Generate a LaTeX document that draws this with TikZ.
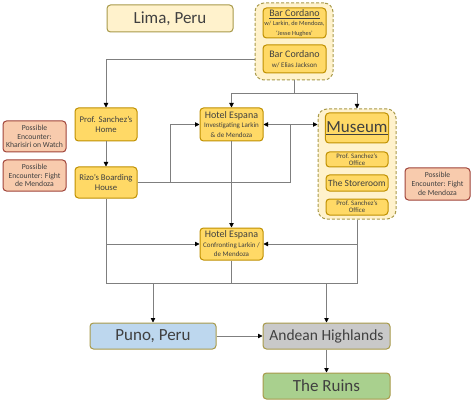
\documentclass[tikz,border=0pt]{standalone}
\usepackage{fontspec}
\setmainfont{Carlito}
\usetikzlibrary{arrows.meta,positioning}
\definecolor{txt}{HTML}{404040}
\definecolor{ybox}{HTML}{FFD966}
\definecolor{ybd}{HTML}{BF9000}
\definecolor{ylight}{HTML}{FFF2CC}
\definecolor{bigbd}{HTML}{A89A4A}
\definecolor{pinkf}{HTML}{F8CBAD}
\definecolor{pinkbd}{HTML}{A0443A}
\definecolor{bluef}{HTML}{BDD7EE}
\definecolor{grayf}{HTML}{C9C9C9}
\definecolor{greenf}{HTML}{A9D08E}
\definecolor{lnc}{HTML}{7F7F7F}
\tikzset{
  base/.style={rounded corners=3.5pt, line width=1pt, align=center, text=txt, inner sep=1pt},
  ybx/.style={base, draw=ybd, fill=ybox},
  bigbx/.style={base, draw=bigbd, font=\fontsize{17}{19}\selectfont},
  encbx/.style={base, draw=pinkbd, fill=pinkf, font=\fontsize{7.7}{8.7}\selectfont},
  grp/.style={draw=bigbd, fill=ylight, dashed, line width=1pt, rounded corners=9pt, dash pattern=on 3pt off 2pt},
  conn/.style={draw=lnc, line width=0.8pt},
  arr/.style={conn, -{Triangle[width=4.5pt,length=4.5pt,color=black]}},
  biarr/.style={conn, {Triangle[width=4.5pt,length=4.5pt,color=black]}-{Triangle[width=4.5pt,length=4.5pt,color=black]}},
}
\newcommand{\sub}[1]{{\fontsize{7}{7.5}\selectfont #1}}
\newcommand{\subs}[1]{{\fontsize{6.3}{7}\selectfont #1}}
\newcommand{\ttl}[1]{{\fontsize{10}{10.5}\selectfont #1}}
\begin{document}
\begin{tikzpicture}[x=1pt,y=-1pt]
\useasboundingbox[fill=white] (0,0) rectangle (474,409);
% groups
\node[grp, minimum width=78pt, minimum height=77pt] (g1) at (294,41.5) {};
\node[grp, minimum width=78pt, minimum height=110pt] (g2) at (357,164) {};
% top
\node[bigbx, fill=ylight, minimum width=126pt, minimum height=27pt] (lima) at (170,18.5) {Lima, Peru};
\node[ybx, minimum width=63pt, minimum height=30pt] (bar1) at (294.5,23) {\ttl{\underline{Bar Cordano}}\\[-2.5pt]\subs{w/ Larkin, de Mendoza,}\\[-2.5pt]\subs{`Jesse Hughes'}};
\node[ybx, minimum width=63pt, minimum height=28pt] (bar2) at (294.5,59) {\ttl{Bar Cordano}\\[-2pt]\sub{w/ Elias Jackson}};
% left column
\node[ybx, minimum width=62pt, minimum height=33pt, font=\fontsize{8.7}{10}\selectfont] (home) at (106,124.5) {Prof. Sanchez's\\Home};
\node[ybx, minimum width=62pt, minimum height=31pt, font=\fontsize{8.7}{10}\selectfont] (rizo) at (106,182.5) {Rizo's Boarding\\House};
\node[encbx, minimum width=63pt, minimum height=31pt] (enc1) at (34.5,136.5) {Possible\\Encounter:\\Kharisiri on Watch};
\node[encbx, minimum width=63pt, minimum height=31pt] (enc2) at (34.5,175.5) {Possible\\Encounter: Fight\\de Mendoza};
% hotels
\node[ybx, minimum width=63pt, minimum height=33pt] (hot1) at (231.5,124.5) {\ttl{Hotel Espana}\\[-2.5pt]\sub{Investigating Larkin}\\[-2.5pt]\sub{\& de Mendoza}};
\node[ybx, minimum width=63pt, minimum height=32pt] (hot2) at (231.5,244) {\ttl{Hotel Espana}\\[-2.5pt]\sub{Confronting Larkin /}\\[-2.5pt]\sub{de Mendoza}};
% museum
\node[ybx, minimum width=62pt, minimum height=30pt, font=\fontsize{17}{19}\selectfont] (mus) at (357,128) {\underline{Museum}};
\node[ybx, minimum width=62pt, minimum height=15pt, font=\fontsize{6.8}{7}\selectfont, inner sep=0.5pt] (off1) at (357,159.5) {Prof. Sanchez's\\Office};
\node[ybx, minimum width=62pt, minimum height=16pt, font=\fontsize{9.5}{10}\selectfont] (store) at (357,183) {The Storeroom};
\node[ybx, minimum width=62pt, minimum height=16pt, font=\fontsize{6.8}{7}\selectfont, inner sep=0.5pt] (off2) at (357,207) {Prof. Sanchez's\\Office};
\node[encbx, minimum width=65pt, minimum height=32pt] (enc3) at (437.5,184) {Possible\\Encounter: Fight\\de Mendoza};
% bottom
\node[bigbx, fill=bluef, minimum width=126pt, minimum height=26pt] (puno) at (153,336) {Puno, Peru};
\node[bigbx, fill=grayf, minimum width=127pt, minimum height=26pt, font=\fontsize{15.5}{17}\selectfont] (andes) at (326.5,336) {Andean Highlands};
\node[bigbx, fill=greenf, minimum width=127pt, minimum height=26pt] (ruins) at (326.5,386) {The Ruins};
% junctions
\coordinate (j1) at (294,93);
\coordinate (jr) at (290,182.5);
\coordinate (jl) at (170,182.5);
\coordinate (bl) at (106,283);
\coordinate (br) at (357,283);
\coordinate (bm) at (231.5,283);
\coordinate (ll) at (106,244);
\coordinate (rr) at (357,244);
% connectors
\draw[arr] (bar2.west -| g1.west) -| (home.north);
\draw[conn] (g1.south) -- (j1);
\draw[arr] (j1) -| (hot1.north);
\draw[arr] (j1) -| (g2.north);
\draw[arr] (home.south) -- (rizo.north);
\draw[conn] (rizo.east) -- (jr);
\draw[arr] (jl) |- (hot1.west);
\draw[conn] (jr) -- (jr |- hot1.east);
\draw[biarr] (hot1.east) -- (hot1.east -| g2.west);
\draw[arr] (hot1.south) -- (hot2.north);
\draw[conn] (rizo.south) -- (bl) -- (br) -- (g2.south);
\draw[conn] (hot2.south) -- (bm);
\draw[arr] (ll) -- (hot2.west);
\draw[arr] (rr) -- (hot2.east);
\draw[arr] (bl -| puno.north) -- (puno.north);
\draw[arr] (br -| andes.north) -- (andes.north);
\draw[arr] (puno.east) -- (andes.west);
\draw[arr] (andes.south) -- (ruins.north);
\end{tikzpicture}
\end{document}
